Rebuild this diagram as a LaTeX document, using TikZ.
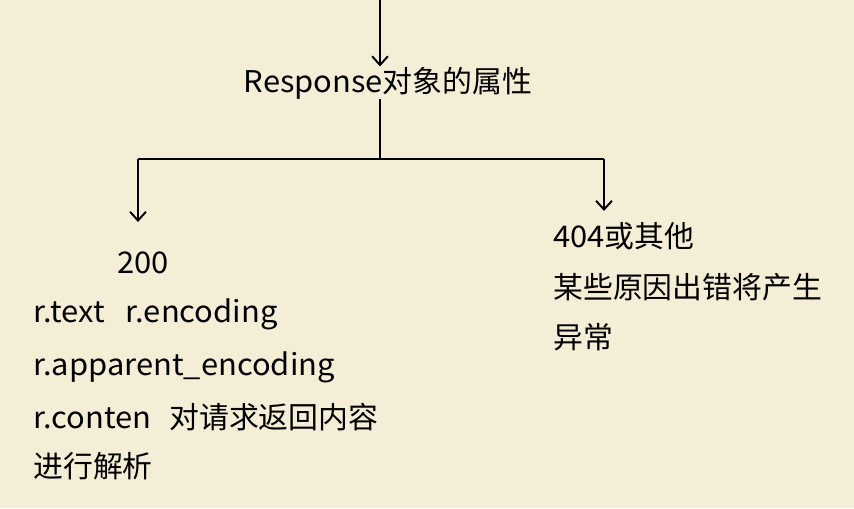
\documentclass[tikz,border=0pt]{standalone}
\usepackage{fontspec}
\setmainfont{Noto Sans CJK SC}[FakeStretch=1.035]
\newfontfamily\cjk{Noto Sans CJK SC}
\usetikzlibrary{arrows.meta}
\definecolor{paper}{RGB}{245,238,214}
\tikzset{
  wire/.style={line width=1.1pt,black},
  txt/.style={anchor=base west,inner sep=0pt,font=\fontsize{17}{20}\selectfont},
}
\newcommand{\zh}[1]{{\cjk #1}}
\begin{document}
\begin{tikzpicture}[x=0.02cm,y=-0.02cm,>={Straight Barb[length=5pt,width=9pt]}]
\fill[paper] (0,0) rectangle (854,508);
\useasboundingbox (0,0) rectangle (854,508);
% trunk and split
\coordinate (top) at (380,0);
\node[txt,anchor=base] (resp) at (388,92) {Response\zh{对象的属性}};
\coordinate (split) at (380,159);
\coordinate (lcorner) at (138,159);
\coordinate (rcorner) at (604,159);
\coordinate (okin) at (138,222);
\coordinate (errin) at (604,211);
% left branch
\node[txt] (s200) at (117,273) {200};
\node[txt] (stext) at (33,322) {r.text\hspace{0.42cm}r.encoding};
\node[txt] (sapp) at (33,375) {r.apparent\_encoding};
\node[txt] (scont) at (33,428) {r.conten\hspace{0.36cm}\zh{对请求返回内容}};
\node[txt] (sparse) at (33,477) {\zh{进行解析}};
% right branch
\node[txt] (e404) at (553,247) {404\zh{或其他}};
\node[txt] (ereason) at (553,298) {\zh{某些原因出错将产生}};
\node[txt] (eexc) at (553,348) {\zh{异常}};
\draw[wire,->] (top) -- (top |- resp.north);
\draw[wire] (top |- resp.south) -- (split);
\draw[wire] (lcorner) -- (rcorner);
\draw[wire,->] (lcorner) -- (okin);
\draw[wire,->] (rcorner) -- (errin);
\end{tikzpicture}
\end{document}
